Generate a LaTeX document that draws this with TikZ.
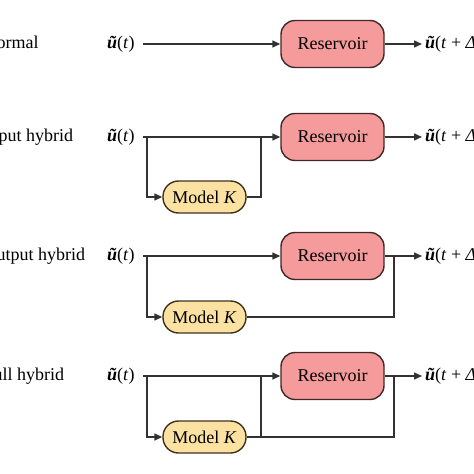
\documentclass[tikz,border=0pt]{standalone}
\usepackage{fontspec}
\setmainfont{Liberation Serif}
\usetikzlibrary{arrows.meta}
\definecolor{resfill}{RGB}{245,155,156}
\definecolor{resdraw}{RGB}{62,40,40}
\definecolor{modfill}{RGB}{252,226,162}
\definecolor{moddraw}{RGB}{62,52,30}
\definecolor{linec}{RGB}{50,50,50}
\tikzset{
  resbox/.style={draw=resdraw, fill=resfill, line width=1.4pt, rounded corners=14pt,
    minimum width=103pt, minimum height=47pt, inner sep=0pt, font=\fontsize{18}{20}\selectfont},
  modbox/.style={draw=moddraw, fill=modfill, line width=1.4pt, rounded corners=15.5pt,
    minimum width=83pt, minimum height=32pt, inner sep=0pt, font=\fontsize{18}{20}\selectfont},
  txt/.style={inner sep=0pt, anchor=west, text height=12pt, text depth=4pt, font=\fontsize{18}{20}\selectfont},
  conn/.style={draw=linec, line width=1.4pt},
  arr/.style={conn, -{Triangle[length=8pt,width=7pt]}},
}
\newcommand{\uvec}{\textbf{\textit{ũ}}}
\begin{document}
\begin{tikzpicture}[x=1pt,y=-1pt]
\useasboundingbox (0,0) rectangle (474,474);
\clip (0,0) rectangle (474,474);
% labels
\node[txt] (l1) at (-16.5,44) {Normal};
\node[txt] (l2) at (-16.5,137) {Input hybrid};
\node[txt] (l3) at (-16.5,256) {Output hybrid};
\node[txt] (l4) at (-16.5,376) {Full hybrid};
% inputs
\node[txt] (i1) at (107,44) {\uvec(\textit{t})};
\node[txt] (i2) at (107,137) {\uvec(\textit{t})};
\node[txt] (i3) at (107,256) {\uvec(\textit{t})};
\node[txt] (i4) at (107,376) {\uvec(\textit{t})};
% outputs
\node[txt] (o1) at (425,44) {\uvec(\textit{t} + \textit{Δt})};
\node[txt] (o2) at (425,137) {\uvec(\textit{t} + \textit{Δt})};
\node[txt] (o3) at (425,256) {\uvec(\textit{t} + \textit{Δt})};
\node[txt] (o4) at (425,376) {\uvec(\textit{t} + \textit{Δt})};
% reservoirs
\node[resbox] (r1) at (332.5,44) {Reservoir};
\node[resbox] (r2) at (332.5,137) {Reservoir};
\node[resbox] (r3) at (332.5,256) {Reservoir};
\node[resbox] (r4) at (332.5,376) {Reservoir};
% models
\node[modbox] (m2) at (204.5,197) {Model \textit{K}};
\node[modbox] (m3) at (204.5,317) {Model \textit{K}};
\node[modbox] (m4) at (204.5,437) {Model \textit{K}};
% junction coordinates
\coordinate (s2) at (147,137);
\coordinate (s3) at (147,256);
\coordinate (s4) at (147,376);
\coordinate (j2) at (261,137);
\coordinate (j4) at (261,376);
\coordinate (q3) at (394,256);
\coordinate (q4) at (394,376);
% row 1
\draw[arr] ([xshift=8pt]i1.east) -- (r1.west);
\draw[arr] (r1.east) -- ([xshift=-3pt]o1.west);
% row 2
\draw[arr] ([xshift=8pt]i2.east) -- (r2.west);
\draw[arr] (s2) |- (m2.west);
\draw[conn] (m2.east) -| (j2);
\draw[arr] (r2.east) -- ([xshift=-3pt]o2.west);
% row 3
\draw[arr] ([xshift=8pt]i3.east) -- (r3.west);
\draw[arr] (s3) |- (m3.west);
\draw[arr] (r3.east) -- ([xshift=-3pt]o3.west);
\draw[conn] (m3.east) -| (q3);
% row 4
\draw[arr] ([xshift=8pt]i4.east) -- (r4.west);
\draw[arr] (s4) |- (m4.west);
\draw[arr] (r4.east) -- ([xshift=-3pt]o4.west);
\draw[conn] (m4.east) -| (q4);
\draw[conn] (j4) -- (j4 |- m4.east);
\end{tikzpicture}
\end{document}
